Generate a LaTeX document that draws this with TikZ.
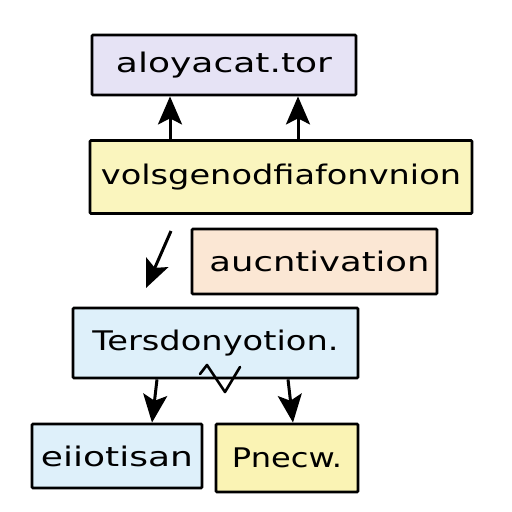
\documentclass[tikz,border=0pt]{standalone}
\usepackage{fontspec}
\usepackage{graphicx}
\setmainfont{DejaVu Sans}
\usetikzlibrary{arrows.meta}
\newcommand{\hw}[2]{\resizebox{#1pt}{\height}{#2}}
\begin{document}
\begin{tikzpicture}[x=1pt,y=-1pt,
  box/.style={draw=black, line width=2.8pt, inner sep=0pt, rounded corners=1pt,
    font=\fontsize{27}{32}\selectfont},
  arr/.style={draw=black, line width=3pt, -{Stealth[length=28pt,width=24pt,inset=6pt]}},
  doodle/.style={draw=black, line width=2.6pt, line join=round, line cap=round}]
\useasboundingbox (0,0) rectangle (512,512);
\fill[white] (0,0) rectangle (512,512);
\definecolor{lav}{HTML}{E6E3F5}
\definecolor{yel}{HTML}{FAF5BE}
\definecolor{pch}{HTML}{FBE7D4}
\definecolor{blu}{HTML}{DEF0FA}
\definecolor{yel2}{HTML}{FAF3B4}

\node[box, fill=lav, minimum width=264pt, minimum height=60pt] (b1) at (224,65) {\hw{216}{aloyacat.tor}};
\node[box, fill=yel, minimum width=382pt, minimum height=73pt] (b2) at (281,177) {\hw{360}{volsgenodfiafonvnion}};
\node[box, fill=pch, minimum width=245pt, minimum height=65pt] (b3) at (314.5,261.5) {\hspace{10pt}\hw{220}{aucntivation}};
\node[box, fill=blu, minimum width=285pt, minimum height=70pt] (b4) at (215.5,343) {\hw{246}{Tersdonyotion.}};
\node[box, fill=blu, minimum width=170pt, minimum height=64pt] (b5) at (117,456) {\hw{152}{eiiotisan}\hspace{12pt}};
\node[box, fill=yel2, minimum width=142pt, minimum height=68pt] (b6) at (287,458) {\hw{110}{Pnecw.}};

\coordinate (c1) at (170,0);
\coordinate (c2) at (298,0);
\draw[arr] (b2.north -| c1) -- (b1.south -| c1);
\draw[arr] (b2.north -| c2) -- (b1.south -| c2);

\coordinate (d1) at (171,231);
\coordinate (d2) at (146,288);
\draw[arr] (d1) -- (d2);

\coordinate (e1) at (157,0);
\coordinate (e2) at (152,0);
\coordinate (f1) at (288,0);
\coordinate (f2) at (293,0);
\draw[arr] (b4.south -| e1) -- (b5.north -| e2);
\draw[arr] (b4.south -| f1) -- (b6.north -| f2);

\draw[doodle] (200,374) -- (207,365) -- (225,392) -- (240,367);
\end{tikzpicture}
\end{document}
